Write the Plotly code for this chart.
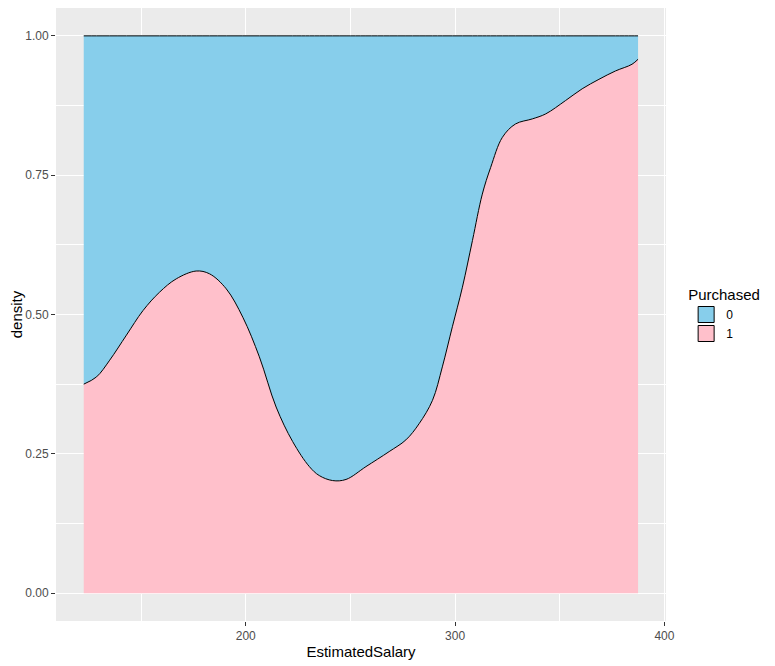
import plotly.graph_objects as go

# values (position = "fill" density, share of Purchased = 1)
salary = [122.6, 128.7, 135.0, 143.0, 150.9, 158.8, 166.8, 176.3, 182.7, 190.7,
          198.6, 206.5, 214.5, 222.4, 230.4, 235.1, 241.5, 247.9, 257.4, 268.5,
          276.5, 282.8, 289.2, 293.9, 298.7, 303.5, 308.3, 313.0, 317.0, 322.6,
          328.9, 336.9, 343.3, 352.8, 360.7, 368.7, 376.6, 384.5, 387.4]
share_1 = [0.375, 0.388, 0.418, 0.463, 0.507, 0.540, 0.564, 0.578, 0.573, 0.546,
           0.495, 0.424, 0.334, 0.272, 0.227, 0.211, 0.202, 0.204, 0.227, 0.254,
           0.275, 0.304, 0.346, 0.406, 0.478, 0.549, 0.633, 0.716, 0.764, 0.818,
           0.842, 0.851, 0.860, 0.884, 0.905, 0.922, 0.937, 0.949, 0.958]
share_0 = [1 - v for v in share_1]

groups = ["0", "1"]
colors = {"0": "#87CEEB", "1": "#FFC0CB"}

fig = go.Figure()

# stacked from the bottom: purchased (1) first, then not purchased (0)
fig.add_trace(go.Scatter(x=salary, y=share_1, stackgroup="fill", mode="lines",
                         line=dict(color="black", width=1, shape="spline"),
                         fillcolor=colors["1"], showlegend=False, hoverinfo="skip"))
fig.add_trace(go.Scatter(x=salary, y=share_0, stackgroup="fill", mode="lines",
                         line=dict(color="black", width=1, shape="spline"),
                         fillcolor=colors["0"], showlegend=False, hoverinfo="skip"))

# legend keys
for g in groups:
    fig.add_trace(go.Scatter(x=[None], y=[None], mode="markers", name=g,
                             marker=dict(symbol="square", size=16, color=colors[g],
                                         line=dict(color="black", width=1))))

axis_common = dict(
    showgrid=True, gridcolor="white", gridwidth=1.1,
    zeroline=False, showline=False, automargin=False,
    ticks="outside", ticklen=4, tickwidth=1, tickcolor="#333333",
    tickfont=dict(family="Liberation Sans", size=12, color="#4D4D4D"),
    title_font=dict(family="Liberation Sans", size=15, color="black"),
)

fig.update_xaxes(**axis_common, range=[109.35, 400.75],
                 tickvals=[200, 300, 400],
                 minor=dict(tickvals=[150, 250, 350], showgrid=True,
                            gridcolor="white", gridwidth=0.55, ticks=""),
                 title_text="EstimatedSalary", title_standoff=4)
fig.update_yaxes(**axis_common, range=[-0.05, 1.05],
                 tickvals=[0, 0.25, 0.5, 0.75, 1.0], tickformat=".2f",
                 minor=dict(tickvals=[0.125, 0.375, 0.625, 0.875], showgrid=True,
                            gridcolor="white", gridwidth=0.55, ticks=""),
                 title_text="density", title_standoff=6)

# page body adds an 8px offset, so the figure is drawn 8px smaller
fig.update_layout(
    width=767, height=658,
    margin=dict(l=48, r=109, t=0, b=45),
    paper_bgcolor="white", plot_bgcolor="#EBEBEB",
    font=dict(family="Liberation Sans", color="black"),
    legend=dict(title=dict(text="Purchased", font=dict(size=15)),
                font=dict(size=12), x=1.033, xanchor="left", y=0.5, yanchor="middle",
                traceorder="normal",
                bgcolor="rgba(0,0,0,0)", tracegroupgap=0, itemwidth=30),
)

fig.write_html("out.html")
